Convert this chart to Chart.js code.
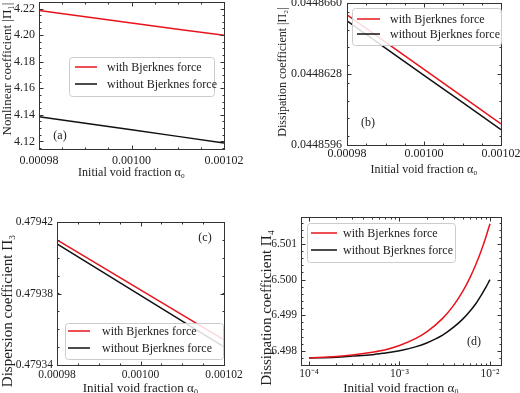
<!DOCTYPE html>
<html><head><meta charset="utf-8">
<script src="https://cdn.jsdelivr.net/npm/chart.js@4.4.0/dist/chart.umd.min.js"></script>
<style>
html,body{margin:0;padding:0;background:#fff;overflow:hidden;}
#wrap{position:relative;width:520px;height:393px;overflow:hidden;background:#fff;}
canvas{position:absolute;left:0;top:0;}
</style></head><body>
<div id="wrap">
<canvas id="ca" width="520" height="400"></canvas>
<canvas id="cb" width="520" height="400"></canvas>
<canvas id="cc" width="520" height="400"></canvas>
<canvas id="cd" width="520" height="400"></canvas>
</div>
<script>
// ---------- data ----------
const seriesLabels = ['with Bjerknes force', 'without Bjerknes force'];
const xTitleText = 'Initial void fraction α₀';

// panels (a)-(c): initial void fraction
const alphaABC = [0.00098, 0.00099, 0.00100, 0.00101, 0.00102];
const piA_with    = [4.2186, 4.2138, 4.2091, 4.2044, 4.1998];
const piA_without = [4.1385, 4.1336, 4.1287, 4.1238, 4.1188];
const piB_with    = [0.04486547, 0.04486424, 0.04486301, 0.04486178, 0.04486055];
const piB_without = [0.04486520, 0.04486397, 0.04486274, 0.04486152, 0.04486029];
const piC_with    = [0.479410, 0.479396, 0.479382, 0.479368, 0.479354];
const piC_without = [0.4794078, 0.4793934, 0.479379, 0.4793646, 0.4793502];

// panel (d): log x
const alphaD = [0.0001, 0.0002, 0.0003, 0.0005, 0.0007, 0.001, 0.0015, 0.002, 0.003, 0.004, 0.005, 0.006, 0.007, 0.008, 0.009, 0.01];
const piD_with    = [6.49780, 6.49784, 6.49788, 6.49796, 6.49803, 6.49815, 6.49834, 6.49853, 6.49891, 6.49929, 6.49967, 6.50005, 6.50043, 6.50081, 6.50119, 6.50157];
const piD_without = [6.49780, 6.49782, 6.49785, 6.49789, 6.49794, 6.49800, 6.49811, 6.49822, 6.49844, 6.49867, 6.49889, 6.49911, 6.49933, 6.49956, 6.49978, 6.50000];

// ticks
const ticksX_ABC  = [0.00098, 0.00100, 0.00102];
const labelsX_ABC = ['0.00098', '0.00100', '0.00102'];
const ticksY_A  = [4.12, 4.14, 4.16, 4.18, 4.20, 4.22];
const labelsY_A = ['4.12', '4.14', '4.16', '4.18', '4.20', '4.22'];
const ticksY_B  = [0.0448596, 0.0448628, 0.0448660];
const labelsY_B = ['0.0448596', '0.0448628', '0.0448660'];
const ticksY_C  = [0.47934, 0.47938, 0.47942];
const labelsY_C = ['0.47934', '0.47938', '0.47942'];
const ticksX_D  = [0.0001, 0.001, 0.01];
const labelsX_D = ['10⁻⁴', '10⁻³', '10⁻²'];
const ticksY_D  = [6.498, 6.499, 6.500, 6.501];
const labelsY_D = ['6.498', '6.499', '6.500', '6.501'];

// ---------- styling ----------
const COLOR_WITH = '#e8141c';
const COLOR_WITHOUT = '#111111';
const W = 520, H = 400;
const FAMILY = "'Liberation Serif', 'Times New Roman', serif";
Chart.defaults.font.family = FAMILY;
Chart.defaults.font.size = 12;
Chart.defaults.color = '#222';

function linMinor(min, max, step) {
  const out = [];
  const s = Math.ceil(min / step - 1e-9);
  for (let k = s; k * step <= max + step * 1e-9; k++) out.push(k * step);
  return out;
}
function logMinor() {
  const out = [];
  for (const d of [1e-4, 1e-3]) for (let m = 2; m <= 9; m++) out.push(m * d);
  return out;
}

const panels = [
  { id: 'ca', x: alphaABC, y1: piA_with, y2: piA_without, xType: 'linear',
    area: {l: 39, t: 2, r: 224, b: 149}, xMin: 0.00098, xMax: 0.00102, yMin: 4.1143, yMax: 4.2249,
    xTicks: ticksX_ABC, xLabels: labelsX_ABC, yTicks: ticksY_A, yLabels: labelsY_A,
    tickSize: 12, xTitleSize: 12, yTitleSize: 13,
    xPad: 5, yPad: 4, xH: 31, yTitle: 'Nonlinear coefficient |Π₁|', yTitlePos: [8, 69],
    legend: {box: [69, 57, 145, 39], rows: [67, 84], line: [75, 97], textX: 107},
    tag: {text: '(a)', x: 60, y: 136},
    minorX: linMinor(0.00098, 0.00102, 0.000005), minorY: linMinor(4.115, 4.225, 0.005) },
  { id: 'cb', x: alphaABC, y1: piB_with, y2: piB_without, xType: 'linear',
    area: {l: 347, t: 3, r: 501, b: 145}, xMin: 0.00098, xMax: 0.00102, yMin: 0.0448596, yMax: 0.0448660,
    xTicks: ticksX_ABC, xLabels: labelsX_ABC, yTicks: ticksY_B, yLabels: labelsY_B,
    tickSize: 12, xTitleSize: 12, yTitleSize: 12,
    xPad: 2, yPad: 5, xH: 32, yTitle: 'Dissipation coefficient |Π₂|', yTitlePos: [283, 72],
    legend: {box: [352, 8, 149, 37], rows: [19, 34], line: [357, 380], textX: 390},
    tag: {text: '(b)', x: 368, y: 123},
    minorX: linMinor(0.00098, 0.00102, 0.000005), minorY: linMinor(0.0448596, 0.0448660, 0.0000008) },
  { id: 'cc', x: alphaABC, y1: piC_with, y2: piC_without, xType: 'linear',
    area: {l: 57, t: 222, r: 224, b: 365}, xMin: 0.00098, xMax: 0.00102, yMin: 0.47934, yMax: 0.47942,
    xTicks: ticksX_ABC, xLabels: labelsX_ABC, yTicks: ticksY_C, yLabels: labelsY_C,
    tickSize: 11.5, xTitleSize: 13, yTitleSize: 15,
    xPad: 3, yPad: 4, xH: 31, yTitle: 'Dispersion coefficient Π₃', yTitlePos: [8, 311],
    legend: {box: [65, 323, 158, 36], rows: [331, 348], line: [68, 90], textX: 102},
    tag: {text: '(c)', x: 205, y: 238},
    minorX: linMinor(0.00098, 0.00102, 0.000005), minorY: linMinor(0.47934, 0.47942, 0.00001) },
  { id: 'cd', x: alphaD, y1: piD_with, y2: piD_without, xType: 'logarithmic', mono: true,
    area: {l: 301, t: 217, r: 501, b: 365}, xMin: Math.pow(10, -4.088), xMax: Math.pow(10, -1.878), yMin: 6.4976, yMax: 6.50176,
    xTicks: ticksX_D, xLabels: labelsX_D, yTicks: ticksY_D, yLabels: labelsY_D,
    tickSize: 11.5, xTitleSize: 13, yTitleSize: 15,
    xPad: 2, yPad: 4, xH: 31, yTitle: 'Dissipation coefficient Π₄', yTitlePos: [267, 308],
    legend: {box: [307, 223, 148, 39], rows: [233, 250], line: [311, 337], textX: 343},
    tag: {text: '(d)', x: 474, y: 342},
    minorX: logMinor(), minorY: linMinor(6.4976, 6.5018, 0.0002) }
];

const decorPlugin = {
  id: 'decor',
  afterDraw(chart) {
    const p = chart.$panel;
    const ctx = chart.ctx, a = chart.chartArea;
    const xs = chart.scales.x, ys = chart.scales.y;
    const L = Math.round(a.left) + 0.5, R = Math.round(a.right) + 0.5;
    const T = Math.round(a.top) + 0.5, B = Math.round(a.bottom) + 0.5;
    ctx.save();
    ctx.strokeStyle = '#333';
    ctx.lineWidth = 1;
    const drawX = (vals, len) => {
      for (const v of vals) {
        const px = xs.getPixelForValue(v);
        if (px < a.left - 0.5 || px > a.right + 0.5) continue;
        const x = Math.round(px) + 0.5;
        ctx.beginPath(); ctx.moveTo(x, B); ctx.lineTo(x, B - len);
        ctx.moveTo(x, T); ctx.lineTo(x, T + len); ctx.stroke();
      }
    };
    const drawY = (vals, len) => {
      for (const v of vals) {
        const py = ys.getPixelForValue(v);
        if (py < a.top - 0.5 || py > a.bottom + 0.5) continue;
        const y = Math.round(py) + 0.5;
        ctx.beginPath(); ctx.moveTo(L, y); ctx.lineTo(L + len, y);
        ctx.moveTo(R, y); ctx.lineTo(R - len, y); ctx.stroke();
      }
    };
    drawX(p.minorX, 2); drawY(p.minorY, 2);
    drawX(p.xTicks, 4); drawY(p.yTicks, 4);
    ctx.strokeRect(L, T, R - L, B - T);

    // legend
    const lg = p.legend;
    const [bx, by, bw, bh] = lg.box;
    ctx.beginPath();
    if (ctx.roundRect) ctx.roundRect(bx + 0.5, by + 0.5, bw, bh, 3); else ctx.rect(bx + 0.5, by + 0.5, bw, bh);
    ctx.fillStyle = 'rgba(255,255,255,0.85)';
    ctx.fill();
    ctx.strokeStyle = '#cccccc';
    ctx.stroke();
    chart.data.datasets.forEach((ds, i) => {
      const y = lg.rows[i];
      ctx.strokeStyle = ds.borderColor;
      ctx.lineWidth = 1.5;
      ctx.beginPath(); ctx.moveTo(lg.line[0], y); ctx.lineTo(lg.line[1], y); ctx.stroke();
      ctx.fillStyle = '#222';
      ctx.font = '12px ' + FAMILY;
      ctx.textAlign = 'left'; ctx.textBaseline = 'middle';
      ctx.fillText(ds.label, lg.textX, y + 0.5);
    });

    // panel tag
    ctx.fillStyle = '#222';
    ctx.font = '12px ' + FAMILY;
    ctx.textAlign = 'center'; ctx.textBaseline = 'middle';
    ctx.fillText(p.tag.text, p.tag.x, p.tag.y);

    // y-axis title
    ctx.save();
    ctx.font = p.yTitleSize + 'px ' + FAMILY;
    ctx.translate(p.yTitlePos[0], p.yTitlePos[1]);
    ctx.rotate(-Math.PI / 2);
    ctx.fillText(p.yTitle, 0, 0);
    ctx.restore();
    ctx.restore();
  }
};

for (const p of panels) {
  new Chart(document.getElementById(p.id), {
    type: 'line',
    data: {
      datasets: [
        { label: seriesLabels[0], data: p.x.map((xv, i) => ({x: xv, y: p.y1[i]})),
          borderColor: COLOR_WITH, backgroundColor: COLOR_WITH, borderWidth: 1.5, pointRadius: 0,
          fill: false, tension: 0, cubicInterpolationMode: p.mono ? 'monotone' : 'default' },
        { label: seriesLabels[1], data: p.x.map((xv, i) => ({x: xv, y: p.y2[i]})),
          borderColor: COLOR_WITHOUT, backgroundColor: COLOR_WITHOUT, borderWidth: 1.5, pointRadius: 0,
          fill: false, tension: 0, cubicInterpolationMode: p.mono ? 'monotone' : 'default' }
      ]
    },
    options: {
      responsive: false, animation: false, devicePixelRatio: 1,
      layout: { padding: { left: 0, top: p.area.t, right: W - p.area.r, bottom: H - p.area.b - p.xH } },
      plugins: { legend: {display: false}, tooltip: {enabled: false} },
      scales: {
        x: {
          type: p.xType, min: p.xMin, max: p.xMax, bounds: 'data', position: 'bottom',
          afterBuildTicks: s => { s.ticks = p.xTicks.map(v => ({value: v})); },
          ticks: { callback: (v, i) => p.xLabels[i], autoSkip: false, maxRotation: 0, minRotation: 0,
                   padding: p.xPad, color: '#222', font: {size: p.tickSize} },
          grid: { display: false, drawTicks: false }, border: { display: false },
          title: { display: true, text: xTitleText, color: '#222', font: {size: p.xTitleSize}, padding: 0 },
          afterFit: s => { s.height = p.xH; s.paddingLeft = 0; s.paddingRight = 0; }
        },
        y: {
          type: 'linear', min: p.yMin, max: p.yMax, bounds: 'data', position: 'left',
          afterBuildTicks: s => { s.ticks = p.yTicks.map(v => ({value: v})); },
          ticks: { callback: (v, i) => p.yLabels[i], autoSkip: false, padding: p.yPad, color: '#222', font: {size: p.tickSize} },
          grid: { display: false, drawTicks: false }, border: { display: false },
          title: { display: false },
          afterFit: s => { s.width = p.area.l; s.paddingTop = 0; s.paddingBottom = 0; }
        }
      }
    },
    plugins: [{ id: 'attach', beforeInit(c) { c.$panel = p; } }, decorPlugin]
  });
}
</script>
</body></html>
